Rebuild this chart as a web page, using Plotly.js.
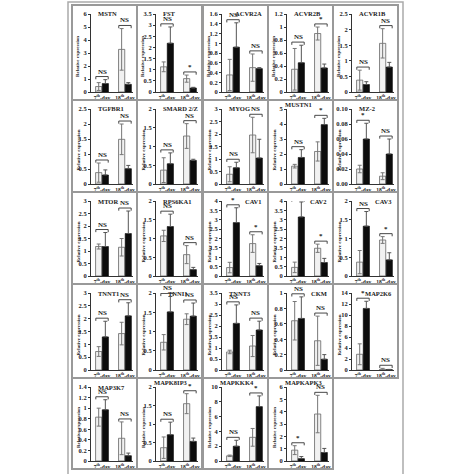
<!DOCTYPE html>
<html><head><meta charset="utf-8">
<script src="https://cdn.plot.ly/plotly-3.0.1.min.js"></script>
<style>html,body{margin:0;padding:0;background:#fff}#chart{width:474px;height:474px}</style>
</head><body><div id="chart"></div>
<script>
// ---- data ----
const genes = ['MSTN','FST','ACVR2A','ACVR2B','ACVR1B',
  'TGFBR1','SMARD 2/Z','MYOG','MUSTN1','MZ-2',
  'MTOR','RPS6KA1','CAV1','CAV2','CAV3',
  'TNNT1','TNNI1','TNNT3','CKM','MAP2K6',
  'MAP3K7','MAPK8IP3','MAPKKK4','MAPKAPK3'];
const dayLabels = ['7<sup>th</sup>-day','18<sup>th</sup>-day'];
const yMax  = [6,3.5,1.6,1.2,2.5, 2.5,2,3,5,0.10, 3,2,4,4,2, 3,2,3.5,1,14, 1.4,2,10,6];
const yStep = [1,0.5,0.2,0.2,0.5, 0.5,0.5,0.5,1,0.02, 0.5,0.5,0.5,0.5,0.5, 0.5,0.5,0.5,0.2,2, 0.2,0.5,2,1];
const d7Light    = [0.42,1.13,0.35,0.35,0.38, 0.38,0.37,0.39,1.19,0.020, 1.18,1.07,0.45,0.46,0.37, 0.72,0.72,0.82,0.64,2.86, 0.83,0.36,0.7,0.88];
const d7LightErr = [0.30,0.22,0.32,0.32,0.32, 0.32,0.33,0.30,0.12,0.005, 0.10,0.15,0.28,0.28,0.31, 0.19,0.20,0.08,0.25,1.9, 0.17,0.29,0.1,0.36];
const d7Black    = [0.65,2.19,0.92,0.45,0.24, 0.30,0.54,0.65,1.77,0.060, 1.18,1.32,2.85,3.15,1.33, 1.29,1.51,2.12,0.67,11.2, 0.97,0.71,2.0,0.19];
const d7BlackErr = [0.30,0.73,0.50,0.27,0.09, 0.17,0.29,0.22,0.52,0.021, 0.56,0.33,0.79,0.80,0.39, 0.61,0.40,0.84,0.28,1.3, 0.19,0.34,0.8,0.17];
const d18Light    = [3.28,0.60,0.50,0.90,1.56, 1.49,1.28,1.96,2.17,0.0104, 1.15,0.57,1.73,1.48,0.96, 1.42,1.32,1.09,0.38,0.12, 0.43,1.55,3.2,3.81];
const d18LightErr = [1.60,0.16,0.28,0.10,0.47, 0.51,0.33,0.71,0.64,0.0046, 0.35,0.24,0.47,0.22,0.09, 0.44,0.14,0.48,0.32,0.18, 0.31,0.27,1.2,1.52];
const d18Black    = [0.59,0.18,0.48,0.37,0.80, 0.51,0.63,1.04,3.96,0.040, 1.70,0.17,0.55,0.72,0.43, 2.11,1.40,1.82,0.14,0.06, 0.10,0.53,7.35,0.69];
const d18BlackErr = [0.13,0.03,0.02,0.06,0.15, 0.11,0.03,0.75,0.42,0.020, 0.90,0.06,0.12,0.22,0.19, 0.51,0.34,0.40,0.06,0.05, 0.05,0.09,1.45,0.33];
const sig7  = ['NS','NS','NS','NS','NS', 'NS','NS','NS','NS','*', 'NS','NS','*','*','NS', 'NS','NS','NS','NS','*', 'NS','NS','NS','*'];
const sig18 = ['NS','*','NS','*','NS', 'NS','NS','NS','*','NS', 'NS','NS','*','*','*', 'NS','NS','NS','NS','NS', 'NS','*','*','NS'];

// ---- layout geometry ----
const W = 474, H = 474;
const px = v => v / W, py = v => 1 - v / H;
const colLeft = [72,137,203,268,333], colW = 65;
const rowTop = [5,100,192,284,378], rowBot = [100,192,284,378,469];
const FONT = 'Liberation Serif, Times New Roman, serif';
const groupPos = [0, 1], off = 0.145, bw = 0.27, xr = [-0.48, 1.35];

const traces = [], annotations = [], shapes = [];
const layout = {
  width: W, height: H, margin: {l:0,r:0,t:0,b:0},
  paper_bgcolor: '#fff', plot_bgcolor: 'rgba(0,0,0,0)',
  showlegend: false, barmode: 'overlay', font: {family: FONT, color: '#222'}
};

shapes.push({type:'rect', xref:'paper', yref:'paper', x0:px(68), x1:px(403), y0:py(480), y1:py(2),
  line:{color:'#aaa', width:1.5}, fillcolor:'rgba(0,0,0,0)'});

genes.forEach((gene, i) => {
  const r = Math.floor(i / 5), c = i % 5;
  const n = i + 1, sfx = n === 1 ? '' : String(n);
  const xa = 'x' + sfx, ya = 'y' + sfx;
  const L = colLeft[c], T = rowTop[r], B = rowBot[r];
  const x0 = L + 19, x1 = L + 61, yT = T + 9, yB = B - 8;
  const pxPerUnit = (x1 - x0) / (xr[1] - xr[0]);

  shapes.push({type:'rect', xref:'paper', yref:'paper', x0:px(L), x1:px(L+colW), y0:py(B), y1:py(T),
    line:{color:'#999', width:2}, fillcolor:'rgba(0,0,0,0)'});

  layout['xaxis' + sfx] = {domain:[px(x0), px(x1)], anchor: ya, range: xr,
    showline:true, linecolor:'#333', linewidth:1, showgrid:false, zeroline:false, ticks:'',
    tickvals: groupPos, ticktext: dayLabels.map(t => '<b>' + t + '</b>'),
    tickfont:{family:FONT, size:5.5, color:'#222'}, fixedrange:true};
  const fmt = yMax[i] < 0.5 ? '.2f' : '';
  layout['yaxis' + sfx] = {domain:[py(yB), py(yT)], anchor: xa, range:[0, yMax[i] * 1.0005],
    tick0:0, dtick:yStep[i], tickformat: fmt,
    showline:true, linecolor:'#333', linewidth:1, showgrid:false, zeroline:false,
    ticks:'outside', ticklen:2, tickcolor:'#333', tickwidth:1,
    tickfont:{family:FONT, size:6.5, color:'#222', weight:'bold'}, fixedrange:true};

  traces.push({type:'bar', xaxis:xa, yaxis:ya, x: groupPos.map(g => g - off),
    y:[d7Light[i], d18Light[i]], width:bw,
    marker:{color:'#f1f1f1', line:{color:'#666', width:0.8}},
    error_y:{type:'data', array:[d7LightErr[i], d18LightErr[i]], symmetric:true,
      color:'#777', thickness:1, width:2}, hoverinfo:'skip'});
  traces.push({type:'bar', xaxis:xa, yaxis:ya, x: groupPos.map(g => g + off),
    y:[d7Black[i], d18Black[i]], width:bw,
    marker:{color:'#0d0d0d', line:{color:'#000', width:0.6}},
    error_y:{type:'data', array:[d7BlackErr[i], d18BlackErr[i]], arrayminus:[0,0], symmetric:false,
      color:'#555', thickness:1, width:2}, hoverinfo:'skip'});

  // significance brackets
  const tops = [
    Math.max(d7Light[i] + d7LightErr[i], d7Black[i] + d7BlackErr[i]),
    Math.max(d18Light[i] + d18LightErr[i], d18Black[i] + d18BlackErr[i])];
  const sigs = [sig7[i], sig18[i]];
  const levels = tops.map(t => t + 0.04 * yMax[i]);
  groupPos.forEach((g, k) => {
    const lvl = levels[k];
    const d = 0.035 * yMax[i];
    traces.push({type:'scatter', mode:'lines', xaxis:xa, yaxis:ya,
      x:[g - 0.27, g - 0.27, g + 0.27, g + 0.27], y:[lvl - d, lvl, lvl, lvl - d],
      line:{color:'#333', width:0.9}, hoverinfo:'skip', cliponaxis:false});
    annotations.push({xref:xa, yref:ya, x:g, y:lvl, yanchor:'bottom', xanchor:'center',
      text:'<b>' + sigs[k] + '</b>', showarrow:false, yshift:-1,
      font:{family:FONT, size:7, color:'#222'}});
  });

  // gene title placement: keep clear of brackets reaching the top of the plot
  const titleW = gene.length * 4.2;
  const b18Left = x0 + (1 - 0.27 - xr[0]) * pxPerUnit;
  const high7 = levels[0] >= 0.895 * yMax[i];
  const high18raw = levels[1] >= 0.895 * yMax[i];
  const high18 = high18raw && (x0 + 5 + titleW) > b18Left;
  let tAnn;
  if (high7 && high18raw) tAnn = {x:px(x0 + (0.5 - xr[0]) * pxPerUnit), y:py(yT), xanchor:'center'};
  else if (high18) tAnn = {x:px(L + 15), y:py(T + 4.5), xanchor:'left'};
  else if (high7) tAnn = {x:px(x1), y:py(yT), xanchor:'right'};
  else tAnn = {x:px(x0 + 5), y:py(yT), xanchor:'left'};
  annotations.push(Object.assign({xref:'paper', yref:'paper', yanchor:'middle',
    text:'<b>' + gene + '</b>', showarrow:false, font:{family:FONT, size:6.5, color:'#222'}}, tAnn));
  annotations.push({xref:'paper', yref:'paper', x:px(L + 6), y:py((yT + yB) / 2 + 4),
    xanchor:'center', yanchor:'middle', textangle:-90,
    text:'<b>Relative expression</b>', showarrow:false, font:{family:FONT, size:5, color:'#222'}});
});

layout.shapes = shapes;
layout.annotations = annotations;
Plotly.newPlot('chart', traces, layout, {staticPlot:true, displayModeBar:false});
</script></body></html>
